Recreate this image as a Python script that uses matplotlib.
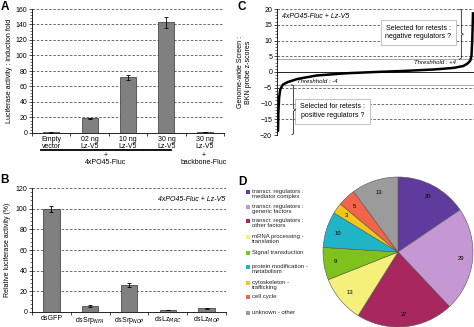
import numpy as np
import matplotlib
matplotlib.use("Agg")
import matplotlib.pyplot as plt
from matplotlib.patches import Rectangle

plt.rcParams['font.family'] = ['Liberation Sans', 'DejaVu Sans']

# panel A
a_labels = ["Empty\nvector", "02 ng\nLz-V5", "10 ng\nLz-V5", "30 ng\nLz-V5", "30 ng\nLz-V5"]
a_values = [1, 19, 72, 143, 1]
a_errors = [0.4, 0.6, 3, 7, 0.3]

# panel B
b_labels = ["dsGFP", "dsSrp$_{NFA}$", "dsSrp$_{NOP}$", "dsLz$_{MRC}$", "dsLz$_{MOP}$"]
b_values = [100, 6, 26, 2, 3.5]
b_errors = [3, 1, 2, 0.3, 0.5]

# panel C : sorted z-scores (fraction of probes, z)
c_rank = [0.0, 0.002, 0.006, 0.012, 0.025, 0.05, 0.1, 0.2, 0.35, 0.5,
          0.65, 0.8, 0.9, 0.95, 0.97, 0.985, 0.992, 0.996, 1.0]
c_z = [-19, -13, -8, -5.5, -4, -3.2, -2.2, -1.1, -0.4, 0.0,
       0.35, 0.8, 1.3, 1.9, 2.6, 3.5, 5, 10, 19]
threshold = 4

# panel D
d_labels = ["transcr. regulators :\nmediator complex", "transcr. regulators :\ngeneric factors",
            "transcr. regulators :\nother factors", "mRNA processing -\ntranslation",
            "Signal transduction", "protein modification -\nmetabolism",
            "cytoskeleton -\ntrafficking", "cell cycle", "unknown - other"]
d_values = [20, 29, 27, 13, 9, 10, 3, 5, 13]
d_colors = ["#5e3b9c", "#c597d3", "#a8275f", "#f4f07a", "#7fc21c",
            "#1fb5c6", "#f2c71c", "#f26449", "#9b9b9b"]

W, H = 474, 327
fig = plt.figure(figsize=(W / 100, H / 100), dpi=100)


def px_axes(l, t, r, b):
    return fig.add_axes([l / W, 1 - b / H, (r - l) / W, (b - t) / H])


bar_col = "#808080"
fs = 5


def bar_panel(ax, values, errors, ymax):
    x = np.arange(len(values))
    ax.bar(x, values, width=0.42, color=bar_col, edgecolor="#333333", linewidth=0.5,
           yerr=errors, error_kw=dict(ecolor="black", elinewidth=0.6, capsize=1.5, capthick=0.6),
           zorder=3)
    ax.set_xlim(-0.5, len(values) - 0.5)
    ax.set_ylim(0, ymax)
    ax.set_yticks(np.arange(0, ymax + 1, 20))
    ax.set_yticks(np.arange(0, ymax + 1, 4), minor=True)
    ax.yaxis.grid(True, linestyle=(0, (3, 2)), color="#555555", linewidth=0.6, zorder=0)
    ax.set_xticks(x)
    ax.set_xticks(np.arange(-0.5, len(values), 1), minor=True)
    ax.tick_params(axis="x", which="major", length=0, labelsize=fs, pad=2)
    ax.tick_params(axis="x", which="minor", length=2, width=0.5)
    ax.tick_params(axis="y", which="major", length=2, width=0.5, labelsize=fs, pad=1.5)
    ax.tick_params(axis="y", which="minor", length=1.2, width=0.4)
    for s in ["top", "right"]:
        ax.spines[s].set_visible(False)
    for s in ["left", "bottom"]:
        ax.spines[s].set_linewidth(0.6)


# A
axA = px_axes(32, 9, 224, 133)
bar_panel(axA, a_values, a_errors, 160)
axA.set_xticklabels(a_labels, linespacing=1.0)
axA.set_ylabel("Luciferase activity : induction fold", fontsize=fs, labelpad=2)

# B
axB = px_axes(32, 188, 226, 312)
bar_panel(axB, b_values, b_errors, 120)
axB.set_xticklabels(b_labels)
axB.set_ylabel("Relative luciferase activity (%)", fontsize=fs, labelpad=3)
axB.text(0.995, 0.905, "4xPO45-Fluc + Lz-V5", transform=axB.transAxes, ha="right", va="center",
         fontsize=fs, style="italic")

# C
axC = px_axes(277, 9, 474, 135)
axC.plot(c_rank, c_z, color="black", lw=1.8, solid_capstyle="butt", zorder=4)
axC.set_xlim(-0.005, 1.005)
axC.set_ylim(-20, 20)
axC.set_yticks(np.arange(-20, 21, 5))
axC.set_yticks(np.arange(-20, 21, 1), minor=True)
axC.set_xticks([])
for v in [-20, -15, -10, -5, 5, 10, 15, 20]:
    axC.axhline(v, linestyle=(0, (3, 2)), color="#555555", linewidth=0.6, zorder=0)
axC.axhline(0, color="black", linewidth=0.6, zorder=1)
axC.axhline(threshold, color="#999999", linewidth=0.6, zorder=1)
axC.axhline(-threshold, color="#999999", linewidth=0.6, zorder=1)
for s in ["top", "right", "bottom"]:
    axC.spines[s].set_visible(False)
axC.spines["left"].set_linewidth(0.6)
axC.tick_params(axis="y", which="major", length=2, width=0.5, labelsize=fs, pad=1.5)
axC.tick_params(axis="y", which="minor", length=1.2, width=0.4)
axC.set_ylabel("Genome-wide Screen :\nBKN probe z-scores", fontsize=fs, labelpad=6, linespacing=1.1)
axC.text(0.02, 17.5, "4xPO45-Fluc + Lz-V5", fontsize=fs, style="italic", va="center")
axC.text(0.915, threshold - 0.3, "Threshhold : +4", fontsize=4.3, style="italic", ha="right", va="top")
axC.text(0.1, -threshold + 0.3, "Threshhold : -4", fontsize=4.3, style="italic", ha="left", va="bottom")
box = dict(boxstyle="square,pad=0.7", fc="white", ec="#aaaaaa", lw=0.5)
axC.text(0.72, 12.5, "Selected for retests :\nnegative regulators ?", fontsize=fs, ha="center",
         va="center", bbox=box, linespacing=1.35, zorder=5)
axC.text(0.28, -12.5, "Selected for retests :\npositive regulators ?", fontsize=fs, ha="center",
         va="center", bbox=box, linespacing=1.35, zorder=5)


def brace(ax, x, y0, y1, w):
    ym = (y0 + y1) / 2
    ax.plot([x, x + w, x + w, x + 2 * w, x + w, x + w, x],
            [y1, y1 - 0.4, ym + 0.4, ym, ym - 0.4, y0 + 0.4, y0],
            color="black", lw=0.5, zorder=5)


brace(axC, 0.93, threshold, 20, 0.01)
brace(axC, 0.07, -20, -threshold, 0.01)

# D
axD = px_axes(323, 177, 473, 327)
axD.pie(d_values, colors=d_colors, startangle=90, counterclock=False, radius=1,
        wedgeprops=dict(edgecolor="#555555", linewidth=0.4),
        labels=[str(v) for v in d_values], labeldistance=0.84,
        textprops=dict(fontsize=4.2, ha="center", va="center"))
axD.set_xlim(-1, 1)
axD.set_ylim(-1, 1)
axD.set_aspect("equal")

# overlay in pixel coordinates for letters and annotations
ov = fig.add_axes([0, 0, 1, 1], facecolor="none")
ov.set_xlim(0, W)
ov.set_ylim(H, 0)
ov.axis("off")
for letter, (lx, ly) in zip("ABCD", [(5, 7), (5, 180), (242, 7), (242, 182)]):
    ov.text(lx, ly, letter, fontsize=8.5, fontweight="bold", ha="center", va="center")
ov.plot([41, 171], [149.5, 149.5], color="black", lw=1.3)
ov.text(106, 155.5, "+", fontsize=fs, ha="center", va="center")
ov.text(106, 163, "4xPO45-Fluc", fontsize=fs, ha="center", va="center")
ov.text(204, 155.5, "+", fontsize=fs, ha="center", va="center")
ov.text(204, 163, "backbone-Fluc", fontsize=fs, ha="center", va="center")

leg_y = [192, 207, 221, 237, 253, 267, 283, 297, 313]
for lab, col, y in zip(d_labels, d_colors, leg_y):
    ov.add_patch(Rectangle((246, y - 2), 4, 4, facecolor=col, edgecolor="none"))
    ov.text(252, y - 2.8, lab, fontsize=4.3, ha="left", va="top", linespacing=1.05, color="#222222")

fig.savefig("out.png", dpi=100)
